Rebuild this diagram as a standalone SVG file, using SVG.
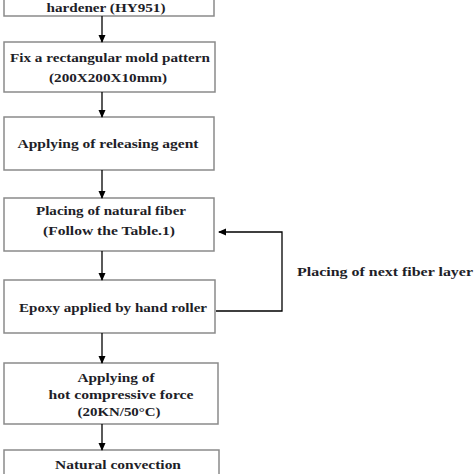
<svg xmlns="http://www.w3.org/2000/svg" width="474" height="474" viewBox="0 0 474 474">
<style>
.box{fill:#fff;stroke:#8a8a8a;stroke-width:1.5}
.t{font-family:"Liberation Serif","Times New Roman",serif;font-weight:bold;font-size:12.5px;fill:#1e1e28;text-anchor:middle}
.c{stroke:#000;stroke-width:1.3;fill:none}
</style>
<defs>
<marker id="ah" markerWidth="8" markerHeight="8" refX="7" refY="4" orient="auto" markerUnits="userSpaceOnUse">
<path d="M0,0.5 L8,4 L0,7.5 Z" fill="#000"/>
</marker>
</defs>
<rect width="474" height="474" fill="#fff"/>
<g id="n1"><rect class="box" x="4" y="-40" width="210" height="56"/>
<text class="t" x="106" y="12" textLength="119" lengthAdjust="spacingAndGlyphs">hardener (HY951)</text></g>
<g id="n2"><rect class="box" x="4" y="42" width="211" height="50"/>
<text class="t" x="110" y="62" textLength="200" lengthAdjust="spacingAndGlyphs">Fix a rectangular mold pattern</text>
<text class="t" x="108" y="82" textLength="118" lengthAdjust="spacingAndGlyphs">(200X200X10mm)</text></g>
<g id="n3"><rect class="box" x="4" y="117" width="210" height="53"/>
<text class="t" x="108" y="148" textLength="181" lengthAdjust="spacingAndGlyphs">Applying of releasing agent</text></g>
<g id="n4"><rect class="box" x="4" y="198" width="210" height="53"/>
<text class="t" x="111" y="215" textLength="150" lengthAdjust="spacingAndGlyphs">Placing of natural fiber</text>
<text class="t" x="109" y="235" textLength="132" lengthAdjust="spacingAndGlyphs">(Follow the Table.1)</text></g>
<g id="n5"><rect class="box" x="4" y="280" width="211" height="53"/>
<text class="t" x="113" y="312" textLength="188" lengthAdjust="spacingAndGlyphs">Epoxy applied by hand roller</text></g>
<g id="n6"><rect class="box" x="4" y="363" width="214" height="61"/>
<text class="t" x="116" y="382" textLength="77" lengthAdjust="spacingAndGlyphs">Applying of</text>
<text class="t" x="121" y="399" textLength="145" lengthAdjust="spacingAndGlyphs">hot compressive force</text>
<text class="t" x="119" y="416" textLength="83" lengthAdjust="spacingAndGlyphs">(20KN/50°C)</text></g>
<g id="n7"><rect class="box" x="4" y="450" width="215" height="40"/>
<text class="t" x="118" y="469" textLength="126" lengthAdjust="spacingAndGlyphs">Natural convection</text></g>
<g id="lbl"><text class="t" x="385" y="276" textLength="176" lengthAdjust="spacingAndGlyphs">Placing of next fiber layer</text></g>
<g id="connectors">
<line class="c" x1="102" y1="16" x2="102" y2="42" marker-end="url(#ah)"/>
<line class="c" x1="102" y1="92" x2="102" y2="117" marker-end="url(#ah)"/>
<line class="c" x1="102" y1="170" x2="102" y2="198" marker-end="url(#ah)"/>
<line class="c" x1="102" y1="251" x2="102" y2="280" marker-end="url(#ah)"/>
<line class="c" x1="102" y1="333" x2="102" y2="363" marker-end="url(#ah)"/>
<line class="c" x1="102" y1="424" x2="102" y2="450" marker-end="url(#ah)"/>
<polyline class="c" points="216,311 282,311 282,232 219,232" marker-end="url(#ah)"/>
</g>
</svg>
